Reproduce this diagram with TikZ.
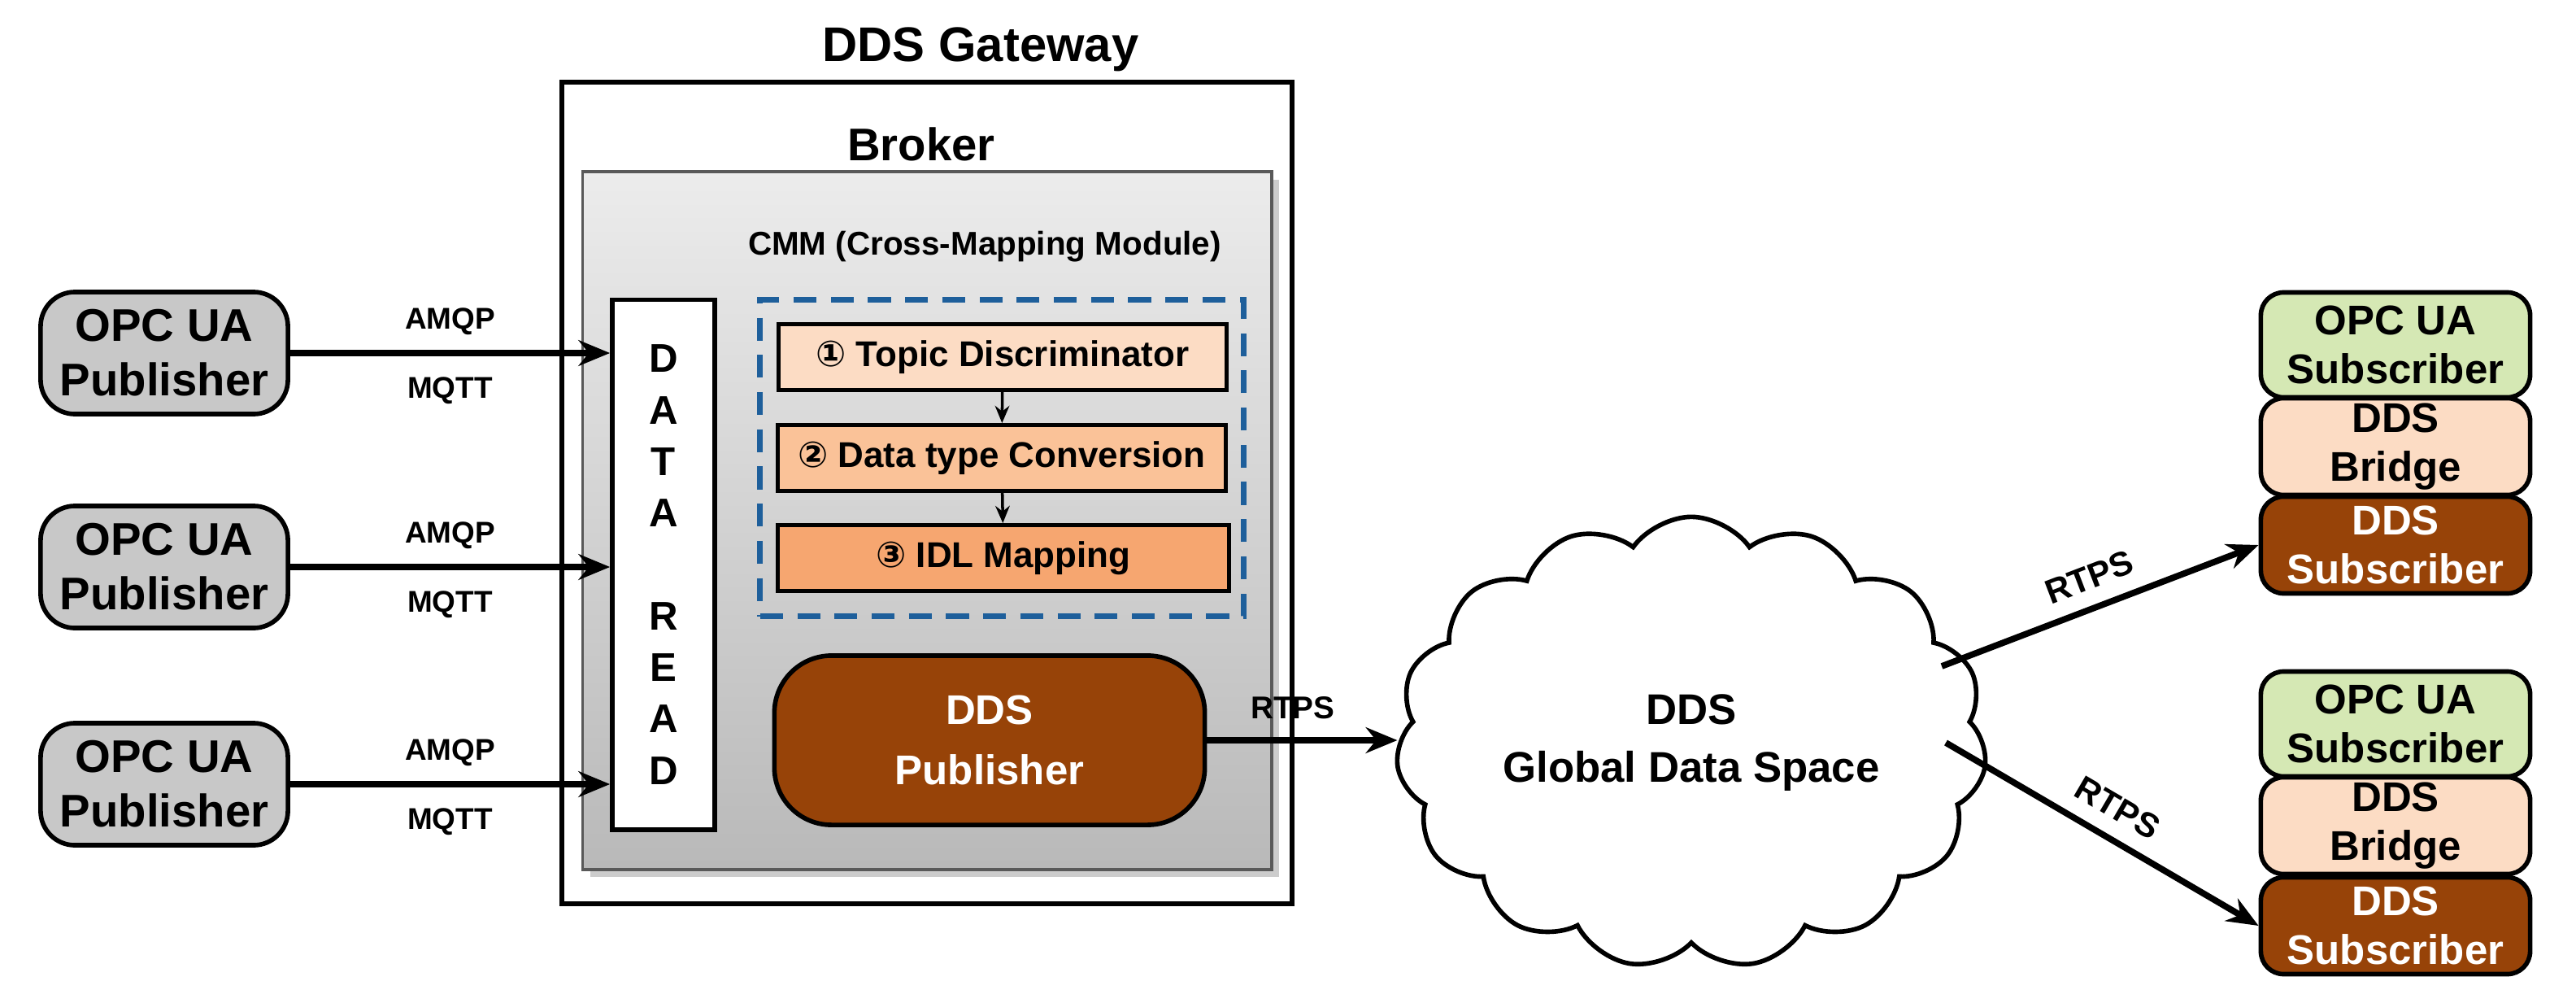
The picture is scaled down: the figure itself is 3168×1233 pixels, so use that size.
\documentclass[tikz,border=0pt]{standalone}
\usepackage{fontspec}
\setmainfont{Liberation Sans}
\newfontfamily\circfont{DejaVu Sans}
\usetikzlibrary{shapes.symbols,arrows.meta,shadows}
\definecolor{pubgray}{RGB}{200,200,200}
\definecolor{peach1}{RGB}{252,220,196}
\definecolor{peach2}{RGB}{250,194,152}
\definecolor{peach3}{RGB}{246,166,112}
\definecolor{brown}{RGB}{151,67,8}
\definecolor{green1}{RGB}{213,232,180}
\definecolor{dashblue}{RGB}{30,95,155}
\begin{document}
\begin{tikzpicture}[x=0.01cm,y=-0.01cm,font=\bfseries,
  box/.style={draw=black,line width=1.6pt,inner sep=0pt,align=center},
  pub/.style={box,rounded corners=12pt,fill=pubgray,minimum width=3.04cm,minimum height=1.5cm,font=\fontsize{16}{19}\selectfont\bfseries},
  cstep/.style={box,line width=1.4pt,minimum width=5.5cm,minimum height=0.81cm,font=\fontsize{12.5}{15}\selectfont\bfseries},
  stk/.style={box,rounded corners=8pt,minimum width=3.31cm,minimum height=1.19cm,font=\fontsize{14.5}{17}\selectfont\bfseries},
  arr/.style={line width=2.2pt,-{Stealth[length=11pt,width=9pt]}},
  lab/.style={font=\fontsize{10.5}{12}\selectfont\bfseries}]
\useasboundingbox (0,0) rectangle (3168,1233);
\node[font=\fontsize{17}{20}\selectfont\bfseries] (gwt) at (1206,61) {DDS Gateway};
\node[draw=black,line width=1.6pt,minimum width=8.98cm,minimum height=10.1cm] (gw) at (1140,606) {};
\node[draw=gray!70!black,line width=1pt,top color=gray!15,bottom color=gray!55,drop shadow={opacity=0.4},minimum width=8.47cm,minimum height=8.57cm] (br) at (1140,640) {};
\node[font=\fontsize{16}{19}\selectfont\bfseries] (brt) at (1133,177) {Broker};
\node[font=\fontsize{11.5}{14}\selectfont\bfseries] (cmmt) at (1211,303) {CMM (Cross-Mapping Module)};
\node[box,fill=white,minimum width=1.26cm,minimum height=6.51cm,font=\fontsize{14}{18}\selectfont\bfseries] (dr) at (816,694) {D\\A\\T\\A\\ \\R\\E\\A\\D};
\node[draw=dashblue,line width=2pt,dash pattern=on 8pt off 5pt,minimum width=5.94cm,minimum height=3.89cm] (cmm) at (1232,563) {};
\node[cstep,fill=peach1] (s1) at (1233,439) {{\circfont ①} Topic Discriminator};
\node[cstep,fill=peach2] (s2) at (1232,563) {{\circfont ②} Data type Conversion};
\node[cstep,fill=peach3,minimum width=5.55cm] (s3) at (1234,686) {{\circfont ③} IDL Mapping};
\draw[line width=1pt,-{Stealth[length=6pt,width=5pt]}] (s1) -- (s2);
\draw[line width=1pt,-{Stealth[length=6pt,width=5pt]}] (s2) -- (s3);
\node[box,fill=brown,text=white,rounded corners=20pt,minimum width=5.29cm,minimum height=2.08cm,font=\fontsize{14.5}{21}\selectfont\bfseries] (dp) at (1217,910) {DDS\\Publisher};
\foreach \i/\y in {1/434,2/697,3/964}{
  \node[pub] (p\i) at (202,\y) {OPC UA\\Publisher};
  \draw[arr] (p\i.east) -- (dr.west |- p\i.east) node[pos=0.5,above=2pt,lab]{AMQP} node[pos=0.5,below=4pt,lab]{MQTT};
}
\node[cloud,draw=black,line width=1.6pt,fill=white,cloud puffs=15,cloud puff arc=110,aspect=1.4,minimum width=6.1cm,minimum height=4.5cm,align=center,font=\fontsize{15}{20}\selectfont\bfseries] (cl) at (2080,913) {DDS\\Global Data Space};
\draw[arr] (dp.east) -- (cl.west |- dp.east) node[pos=0.45,above=3pt,lab,font=\fontsize{11}{13}\selectfont\bfseries]{RTPS};
\foreach \j/\a/\b/\c in {1/424/549/670,2/890/1015/1138}{
  \node[stk,fill=green1,minimum height=1.29cm] (g\j) at (2946,\a) {OPC UA\\Subscriber};
  \node[stk,fill=peach1] (b\j) at (2946,\b) {DDS\\Bridge};
  \node[stk,fill=brown,text=white] (u\j) at (2946,\c) {DDS\\Subscriber};
}
\coordinate (c1) at (2388,819);
\coordinate (c2) at (2393,913);
\draw[arr] (c1) -- (u1.west) node[midway,sloped,above=2pt,lab,font=\fontsize{12}{14}\selectfont\bfseries]{RTPS};
\draw[arr] (c2) -- (u2.west) node[midway,sloped,above=2pt,lab,font=\fontsize{12}{14}\selectfont\bfseries]{RTPS};
\end{tikzpicture}
\end{document}
